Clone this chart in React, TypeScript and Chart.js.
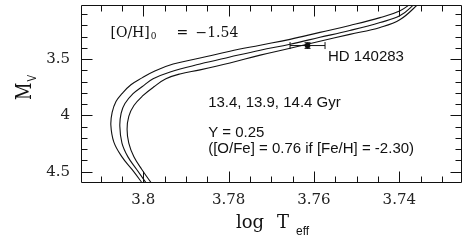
import React, { useEffect, useRef } from "react";
import { Chart, registerables } from "chart.js";

Chart.register(...registerables);

// ---- data ----
const AGES = ["13.4 Gyr", "13.9 Gyr", "14.4 Gyr"];

const ISO_134_LOGT = [3.7998, 3.8026, 3.805, 3.8069, 3.8076, 3.8073, 3.8064, 3.805, 3.8029, 3.8003, 3.7973, 3.793, 3.7867, 3.7797, 3.7726, 3.7656, 3.7586, 3.7516, 3.7445, 3.7398, 3.737];
const ISO_134_MV = [4.623, 4.482, 4.368, 4.237, 4.088, 3.974, 3.877, 3.807, 3.728, 3.667, 3.605, 3.544, 3.491, 3.43, 3.377, 3.325, 3.263, 3.202, 3.132, 3.07, 3.0];

const ISO_139_LOGT = [3.7989, 3.8015, 3.8036, 3.805, 3.8055, 3.8052, 3.8043, 3.8024, 3.8003, 3.7977, 3.7937, 3.7867, 3.7797, 3.7726, 3.7656, 3.7586, 3.7516, 3.7445, 3.7398, 3.7361];
const ISO_139_MV = [4.623, 4.482, 4.368, 4.246, 4.096, 3.982, 3.895, 3.807, 3.746, 3.675, 3.614, 3.544, 3.482, 3.421, 3.368, 3.307, 3.246, 3.175, 3.114, 3.0];

const ISO_144_LOGT = [3.7977, 3.8003, 3.8022, 3.8034, 3.8038, 3.8034, 3.8022, 3.8001, 3.7975, 3.7947, 3.7914, 3.7867, 3.7797, 3.7726, 3.7656, 3.7586, 3.7516, 3.7445, 3.7398, 3.7352];
const ISO_144_MV = [4.623, 4.482, 4.368, 4.246, 4.123, 4.009, 3.912, 3.825, 3.746, 3.675, 3.632, 3.596, 3.535, 3.465, 3.404, 3.342, 3.281, 3.219, 3.149, 3.0];

const STAR_NAME = "HD 140283";
const STAR_LOGT = [3.7615];
const STAR_MV = [3.38];
const STAR_LOGT_ERR = [0.0041];
const STAR_MV_ERR = [0.025];

const X_MIN = 3.7253;
const X_MAX = 3.8146;
const Y_MIN = 3.02;
const Y_MAX = 4.6;
const X_TICKS = [3.8, 3.78, 3.76, 3.74];
const X_TICK_LABELS = ["3.8", "3.78", "3.76", "3.74"];
const Y_TICKS = [3.5, 4, 4.5];
const Y_TICK_LABELS = ["3.5", "4", "4.5"];
const X_MINOR_STEP = 0.005;
const Y_MINOR_STEP = 0.1;

const NOTE_OH = "[O/H]";
const NOTE_OH_SUB = "0";
const NOTE_OH_EQ = "=";
const NOTE_OH_VALUE = "\u22121.54";
const NOTE_AGES = "13.4, 13.9, 14.4 Gyr";
const NOTE_Y = "Y = 0.25";
const NOTE_OFE = "([O/Fe] = 0.76 if [Fe/H] = -2.30)";

const SERIF = "'DejaVu Serif', serif";
const SANS = "'Liberation Sans', Arial, sans-serif";
const INK = "#111";

const ISOS = [
  { logt: ISO_134_LOGT, mv: ISO_134_MV },
  { logt: ISO_139_LOGT, mv: ISO_139_MV },
  { logt: ISO_144_LOGT, mv: ISO_144_MV },
];

const decor = {
  id: "decor",
  afterDraw(chart: any) {
    const { ctx, chartArea: ca, scales } = chart;
    const xs = scales.x;
    const ys = scales.y;
    ctx.save();
    ctx.strokeStyle = INK;
    ctx.fillStyle = INK;
    ctx.lineWidth = 1;
    const L = Math.round(ca.left) + 0.5;
    const R = Math.round(ca.right) - 0.5;
    const T = Math.round(ca.top) + 0.5;
    const B = Math.round(ca.bottom) - 0.5;
    ctx.beginPath();
    ctx.rect(L, T, R - L, B - T);
    ctx.stroke();

    const line = (x1: number, y1: number, x2: number, y2: number) => {
      ctx.beginPath();
      ctx.moveTo(x1, y1);
      ctx.lineTo(x2, y2);
      ctx.stroke();
    };
    const isMajor = (v: number, arr: number[]) => arr.some((m) => Math.abs(m - v) < 1e-6);

    // x ticks
    for (let k = Math.ceil(X_MIN / X_MINOR_STEP); k * X_MINOR_STEP < X_MAX; k++) {
      const v = k * X_MINOR_STEP;
      const len = isMajor(v, X_TICKS) ? 11 : 6;
      const px = Math.round(xs.getPixelForValue(v)) + 0.5;
      line(px, B, px, B - len);
      line(px, T, px, T + len);
    }
    // y ticks
    for (let k = Math.ceil(Y_MIN / Y_MINOR_STEP - 1e-9); k * Y_MINOR_STEP < Y_MAX; k++) {
      const v = k * Y_MINOR_STEP;
      const len = isMajor(v, Y_TICKS) ? 11 : 6;
      const py = Math.round(ys.getPixelForValue(v)) + 0.5;
      line(L, py, L + len, py);
      line(R, py, R - len, py);
    }

    // error bars
    for (let i = 0; i < STAR_LOGT.length; i++) {
      const cx = xs.getPixelForValue(STAR_LOGT[i]);
      const cy = ys.getPixelForValue(STAR_MV[i]);
      const x1 = xs.getPixelForValue(STAR_LOGT[i] + STAR_LOGT_ERR[i]);
      const x2 = xs.getPixelForValue(STAR_LOGT[i] - STAR_LOGT_ERR[i]);
      const y1 = ys.getPixelForValue(STAR_MV[i] - STAR_MV_ERR[i]);
      const y2 = ys.getPixelForValue(STAR_MV[i] + STAR_MV_ERR[i]);
      line(x1, cy, x2, cy);
      line(x1, cy - 3.5, x1, cy + 3.5);
      line(x2, cy - 3.5, x2, cy + 3.5);
      line(cx, y1, cx, y2);
      line(cx - 3, y1, cx + 3, y1);
      line(cx - 3, y2, cx + 3, y2);
    }

    // annotations
    ctx.textAlign = "left";
    ctx.textBaseline = "alphabetic";
    ctx.font = `14px ${SERIF}`;
    const ox = xs.getPixelForValue(3.8077);
    const oy = ys.getPixelForValue(3.301);
    ctx.fillText(NOTE_OH, ox, oy);
    const ow = ctx.measureText(NOTE_OH).width;
    ctx.fillText(NOTE_OH_EQ, ox + 66, oy);
    ctx.fillText(NOTE_OH_VALUE, ox + 85, oy);
    ctx.font = `9px ${SERIF}`;
    ctx.fillText(NOTE_OH_SUB, ox + ow + 1, oy + 2);

    ctx.font = `15px ${SANS}`;
    ctx.fillText(STAR_NAME, xs.getPixelForValue(3.7567), ys.getPixelForValue(3.52));
    ctx.fillText(NOTE_AGES, xs.getPixelForValue(3.7848), ys.getPixelForValue(3.924));
    ctx.fillText(NOTE_Y, xs.getPixelForValue(3.7848), ys.getPixelForValue(4.1875));
    ctx.fillText(NOTE_OFE, xs.getPixelForValue(3.7848), ys.getPixelForValue(4.3365));

    // x-axis title: log T_eff
    ctx.font = `18px ${SERIF}`;
    ctx.fillText("log", 236, 228);
    ctx.fillText("T", 277, 228);
    ctx.font = `12px ${SANS}`;
    ctx.fillText("eff", 296, 235);

    // y-axis title: M_V (rotated)
    ctx.save();
    ctx.translate(31, 100);
    ctx.rotate(-Math.PI / 2);
    ctx.scale(1, 1.3);
    ctx.font = `17px ${SERIF}`;
    ctx.fillText("M", 0, 0);
    const mw = ctx.measureText("M").width;
    ctx.font = `10px ${SANS}`;
    ctx.fillText("V", mw + 1, 4);
    ctx.restore();

    ctx.restore();
  },
};

export default function App() {
  const ref = useRef<HTMLCanvasElement | null>(null);
  useEffect(() => {
    if (!ref.current) return;
    const datasets: any[] = ISOS.map((iso, k) => ({
      label: AGES[k],
      data: iso.logt.map((x, i) => ({ x, y: iso.mv[i] })),
      showLine: true,
      borderColor: INK,
      borderWidth: 1.1,
      pointRadius: 0,
      tension: 0.4,
      fill: false,
    }));
    datasets.push({
      label: STAR_NAME,
      data: STAR_LOGT.map((x, i) => ({ x, y: STAR_MV[i] })),
      showLine: false,
      pointRadius: 2.5,
      backgroundColor: INK,
      borderColor: INK,
    });
    const chart = new Chart(ref.current, {
      type: "scatter",
      data: { datasets },
      options: {
        responsive: false,
        animation: false,
        devicePixelRatio: 1,
        layout: { padding: { left: 0, right: 5, top: 3, bottom: 0 } },
        plugins: { legend: { display: false }, tooltip: { enabled: false } },
        scales: {
          x: {
            type: "linear",
            reverse: true,
            min: X_MIN,
            max: X_MAX,
            grid: { display: false, drawTicks: false },
            border: { display: false },
            afterBuildTicks: (s: any) => {
              s.ticks = X_TICKS.map((v) => ({ value: v }));
            },
            afterFit: (s: any) => {
              s.height = 57;
              s.paddingLeft = 0;
              s.paddingRight = 0;
              s.paddingTop = 0;
              s.paddingBottom = 0;
            },
            ticks: {
              autoSkip: false,
              maxRotation: 0,
              padding: 8,
              color: "#222",
              font: { family: SERIF, size: 15 },
              callback: (_v: any, i: number) => X_TICK_LABELS[i],
            },
          },
          y: {
            type: "linear",
            reverse: true,
            min: Y_MIN,
            max: Y_MAX,
            grid: { display: false, drawTicks: false },
            border: { display: false },
            afterBuildTicks: (s: any) => {
              s.ticks = Y_TICKS.map((v) => ({ value: v }));
            },
            afterFit: (s: any) => {
              s.width = 81;
              s.paddingLeft = 0;
              s.paddingRight = 0;
              s.paddingTop = 0;
              s.paddingBottom = 0;
            },
            ticks: {
              autoSkip: false,
              padding: 11,
              color: "#222",
              font: { family: SERIF, size: 15 },
              callback: (_v: any, i: number) => Y_TICK_LABELS[i],
            },
          },
        },
      },
      plugins: [decor],
    });
    return () => chart.destroy();
  }, []);
  return (
    <canvas
      ref={ref}
      width={467}
      height={240}
      style={{ position: "absolute", left: 0, top: 0, width: 467, height: 240, background: "#fff" }}
    />
  );
}
